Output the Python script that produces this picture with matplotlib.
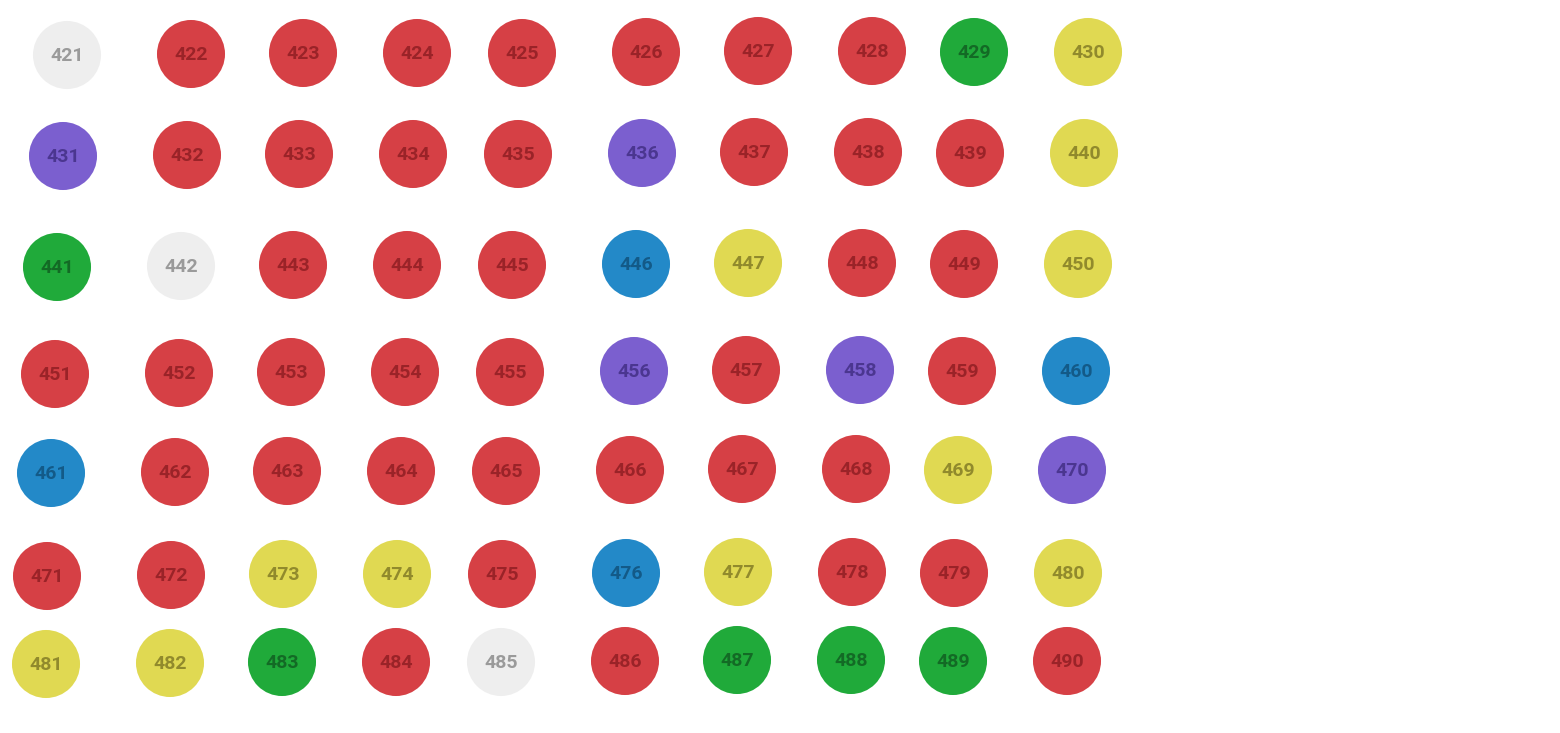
import matplotlib.pyplot as plt

# node labels, colour class and centre (in picture pixels)
labels = list(range(421, 491))
kinds = (
    "g R R R R R R R G Y "
    "P R R R R P R R R Y "
    "G g R R R B Y R R Y "
    "R R R R R P R P R B "
    "B R R R R R R R Y P "
    "R R Y Y R B Y R R Y "
    "Y Y G R g R G G G R"
).split()
xs = [67, 191, 303, 417, 522, 646, 758, 872, 974, 1088,
      63, 187, 299, 413, 518, 642, 754, 868, 970, 1084,
      57, 181, 293, 407, 512, 636, 748, 862, 964, 1078,
      55, 179, 291, 405, 510, 634, 746, 860, 962, 1076,
      51, 175, 287, 401, 506, 630, 742, 856, 958, 1072,
      47, 171, 283, 397, 502, 626, 738, 852, 954, 1068,
      46, 170, 282, 396, 501, 625, 737, 851, 953, 1067]
ys = [55, 54, 53, 53, 53, 52, 51, 51, 52, 52,
      156, 155, 154, 154, 154, 153, 152, 152, 153, 153,
      267, 266, 265, 265, 265, 264, 263, 263, 264, 264,
      374, 373, 372, 372, 372, 371, 370, 370, 371, 371,
      473, 472, 471, 471, 471, 470, 469, 469, 470, 470,
      576, 575, 574, 574, 574, 573, 572, 572, 573, 573,
      664, 663, 662, 662, 662, 661, 660, 660, 661, 661]

fill = {"R": "#d64045", "g": "#eeeeee", "P": "#7b5fcf", "G": "#20aa3a",
        "Y": "#e0d952", "B": "#2389c8"}
ink = {"R": "#9a2328", "g": "#9a9a9a", "P": "#4b3690", "G": "#136a25",
       "Y": "#918a2c", "B": "#135a88"}

fig = plt.figure(figsize=(15.6, 7.33), dpi=100)
ax = fig.add_axes([0, 0, 1, 1])
ax.set_xlim(0, 1560)
ax.set_ylim(733, 0)
ax.axis("off")

ax.scatter(xs, ys, s=2400, c=[fill[k] for k in kinds], linewidths=0)
for lab, k, x, y in zip(labels, kinds, xs, ys):
    ax.text(x, y + 1, str(lab), ha="center", va="center", fontsize=14,
            fontweight="bold", color=ink[k], family="Roboto")

fig.savefig("out.png", dpi=100)
